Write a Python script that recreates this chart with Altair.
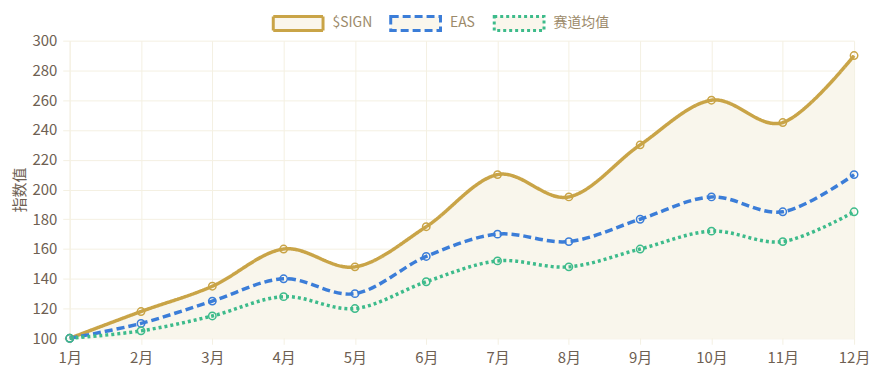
import altair as alt
import pandas as pd

months = ["1月", "2月", "3月", "4月", "5月", "6月", "7月", "8月", "9月", "10月", "11月", "12月"]
sign = [100, 118, 135, 160, 148, 175, 210, 195, 230, 260, 245, 290]
eas = [100, 110, 125, 140, 130, 155, 170, 165, 180, 195, 185, 210]
avg = [100, 105, 115, 128, 120, 138, 152, 148, 160, 172, 165, 185]
series = ["$SIGN", "EAS", "赛道均值"]
colors = ["#C9A447", "#3B7DD8", "#3DBB8B"]
dashes = [[1, 0], [8, 4], [3, 3]]
y_ticks = [100, 120, 140, 160, 180, 200, 220, 240, 260, 280, 300]

rows = []
for name, vals in zip(series, [sign, eas, avg]):
    for i, (m, v) in enumerate(zip(months, vals)):
        rows.append({"month": m, "idx": i, "series": name, "value": v})
df = pd.DataFrame(rows)

FONT = "Noto Sans CJK SC"
GRID = "#F4F0E2"
TXT = "#6E6052"

x = alt.X("month:N", sort=months, scale=alt.Scale(type="point", padding=0),
          axis=alt.Axis(title=None, labelAngle=0, grid=True, gridColor=GRID,
                        domain=False, tickColor=GRID, tickSize=6,
                        labelColor=TXT, labelFontSize=15, labelPadding=6,
                        labelOverlap=False, labelBound=False))
y = alt.Y("value:Q", scale=alt.Scale(domain=[100, 300], nice=False, zero=False),
          axis=alt.Axis(title="指数值", values=y_ticks, labelOverlap=False,
                        grid=True, gridColor=GRID, domainColor=GRID,
                        tickColor=GRID, tickSize=7, labelColor=TXT,
                        labelFontSize=15, labelPadding=6, titleColor=TXT,
                        titleFontSize=15, titleFontWeight="normal", titlePadding=4))

legend_kw = dict(title=None, orient="none", direction="horizontal",
                 legendX=203, legendY=-44,
                 symbolType="M-1,-0.28L1,-0.28L1,0.28L-1,0.28Z",
                 symbolSize=2500, symbolStrokeWidth=3,
                 symbolFillColor="#FAF6EC",
                 labelColor="#9C8A6A", labelFontSize=14,
                 labelOffset=8, columnPadding=12)

color = alt.Color("series:N", scale=alt.Scale(domain=series, range=colors),
                  legend=alt.Legend(**legend_kw))
dash = alt.StrokeDash("series:N", scale=alt.Scale(domain=series, range=dashes),
                      legend=alt.Legend(**legend_kw))

base = alt.Chart(df)

area = base.transform_filter(alt.datum.series == "$SIGN").mark_area(
    interpolate="cardinal", color="#F9F6EC", opacity=1
).encode(x=x, y=y, y2=alt.datum(100))

line = base.mark_line(interpolate="cardinal", strokeWidth=3.5).encode(
    x=x, y=y, color=color, strokeDash=dash)

points = base.mark_point(filled=False, size=55, strokeWidth=1.5, opacity=1).encode(
    x=x, y=y,
    color=alt.Color("series:N", scale=alt.Scale(domain=series, range=colors), legend=None))

chart = alt.layer(area, line, points).properties(
    width=788, height=299,
    autosize=alt.AutoSizeParams(type="none"),
    padding={"left": 62, "top": 32, "right": 16, "bottom": 28},
).configure(font=FONT).configure_view(stroke=None)

chart.save("out.html", embed_options={"renderer": "svg", "actions": False})
